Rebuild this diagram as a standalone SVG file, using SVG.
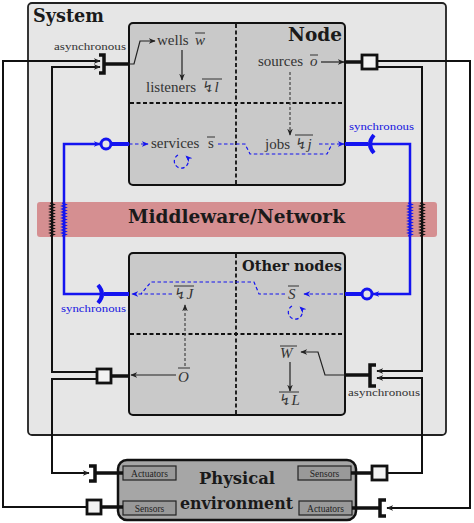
<svg xmlns="http://www.w3.org/2000/svg" width="474" height="523" viewBox="0 0 474 523">
<style>
.bold{font-family:"DejaVu Serif","Liberation Serif",serif;font-weight:bold;fill:#1a1a1a}
.lbl{font-family:"Liberation Serif","DejaVu Serif",serif;font-size:15px;fill:#333}
.it{font-style:italic}
.sm{font-family:"Liberation Serif","DejaVu Serif",serif;font-size:11px;fill:#333}
.tiny{font-family:"Liberation Serif","DejaVu Serif",serif;font-size:9.5px;fill:#222}
.blue{fill:#1515e0}
.ov{stroke:#333;stroke-width:1}
.k{fill:none;stroke:#111;stroke-width:2}
.kt{fill:none;stroke:#111;stroke-width:3.5}
.ka{fill:none;stroke:#222;stroke-width:1.2}
.kd{fill:none;stroke:#444;stroke-width:1.2;stroke-dasharray:3,2}
.b{fill:none;stroke:#1414f0;stroke-width:2.5}
.bt{fill:none;stroke:#1414f0;stroke-width:4}
.bd{fill:none;stroke:#1414f0;stroke-width:1.2;stroke-dasharray:3.5,2.5}
.div{stroke:#111;stroke-width:1.8;stroke-dasharray:4,2.5}
.sq{fill:#f2f2f2;stroke:#111;stroke-width:2.8}
.wig{fill:none;stroke-width:1.3}
</style>
<defs>
<marker id="ah" viewBox="0 0 10 10" refX="9" refY="5" markerWidth="7" markerHeight="7" markerUnits="userSpaceOnUse" orient="auto"><path d="M0,1 L10,5 L0,9 L3,5 z" fill="#222"/></marker>
<marker id="ahb" viewBox="0 0 10 10" refX="9" refY="5" markerWidth="7" markerHeight="7" markerUnits="userSpaceOnUse" orient="auto"><path d="M0,1 L10,5 L0,9 L3,5 z" fill="#1414f0"/></marker>
</defs>

<g id="system">
<rect x="28" y="3" width="418" height="432" rx="4" fill="#e6e6e6" stroke="#222" stroke-width="1.8"/>
<text class="bold" x="33" y="22" font-size="19" textLength="71" lengthAdjust="spacingAndGlyphs">System</text>
</g>

<g id="middleware">
<rect x="37" y="202" width="400" height="35" rx="3" fill="#d48a8c" opacity="0.95"/>
<text class="bold" x="128" y="223" font-size="18" textLength="217" lengthAdjust="spacingAndGlyphs">Middleware/Network</text>
</g>

<g id="node">
<rect x="129" y="23" width="216" height="162" rx="4" fill="#c9c9c9" stroke="#111" stroke-width="2"/>
<line class="div" x1="236" y1="24" x2="236" y2="184"/>
<line class="div" x1="130" y1="103" x2="344" y2="103"/>
<text class="bold" x="288" y="41" font-size="19" textLength="54" lengthAdjust="spacingAndGlyphs">Node</text>
<text class="lbl" x="157" y="45">wells <tspan class="it" x="195">w</tspan></text><line class="ov" x1="195" y1="33" x2="205" y2="33"/>
<text class="lbl" x="146" y="92">listeners <tspan x="202">↯<tspan class="it">l</tspan></tspan></text><line class="ov" x1="202" y1="79" x2="222" y2="79"/>
<text class="lbl" x="258" y="66">sources <tspan class="it" x="310">o</tspan></text><line class="ov" x1="310" y1="55" x2="318" y2="55"/>
<text class="lbl" x="151" y="148">services <tspan x="208">s</tspan></text><line class="ov" x1="207" y1="137" x2="215" y2="137"/>
<text class="lbl" x="265" y="149">jobs <tspan x="295">↯<tspan class="it">j</tspan></tspan></text><line class="ov" x1="295" y1="135" x2="313" y2="135"/>
</g>

<g id="other-nodes">
<rect x="129" y="253" width="216" height="162" rx="4" fill="#c9c9c9" stroke="#111" stroke-width="2"/>
<line class="div" x1="236" y1="254" x2="236" y2="414"/>
<line class="div" x1="130" y1="334" x2="344" y2="334"/>
<text class="bold" x="242" y="271" font-size="15" textLength="100" lengthAdjust="spacingAndGlyphs">Other nodes</text>
<text class="lbl" x="174" y="299">↯<tspan class="it">J</tspan></text><line class="ov" x1="174" y1="286" x2="194" y2="286"/>
<text class="lbl it" x="288" y="299">S</text><line class="ov" x1="288" y1="286" x2="299" y2="286"/>
<text class="lbl it" x="178" y="382">O</text><line class="ov" x1="178" y1="368" x2="190" y2="368"/>
<text class="lbl it" x="280" y="358">W</text><line class="ov" x1="280" y1="346" x2="297" y2="346"/>
<text class="lbl" x="279" y="405">↯<tspan class="it">L</tspan></text><line class="ov" x1="279" y1="392" x2="299" y2="392"/>
</g>

<g id="physical-environment">
<rect x="118" y="460" width="238" height="60" rx="9" fill="#a6a6a6" stroke="#111" stroke-width="2.5"/>
<text class="bold" x="199" y="484" font-size="17" textLength="76" lengthAdjust="spacingAndGlyphs">Physical</text>
<text class="bold" x="180" y="509" font-size="17" textLength="113" lengthAdjust="spacingAndGlyphs">environment</text>
<g id="env-actuators-left"><rect x="123" y="466" width="53" height="14" fill="#999" stroke="#222" stroke-width="1.2"/><text class="tiny" x="149.5" y="476.5" text-anchor="middle">Actuators</text></g>
<g id="env-sensors-left"><rect x="123" y="501" width="53" height="14" fill="#999" stroke="#222" stroke-width="1.2"/><text class="tiny" x="149.5" y="511.5" text-anchor="middle">Sensors</text></g>
<g id="env-sensors-right"><rect x="298" y="466" width="53" height="14" fill="#999" stroke="#222" stroke-width="1.2"/><text class="tiny" x="324.5" y="476.5" text-anchor="middle">Sensors</text></g>
<g id="env-actuators-right"><rect x="299" y="501" width="53" height="14" fill="#999" stroke="#222" stroke-width="1.2"/><text class="tiny" x="325.5" y="511.5" text-anchor="middle">Actuators</text></g>
</g>

<g id="connectors">
<path class="k" d="M87,507 H3 V61 H100" marker-end="url(#ah)"/>
<path class="k" d="M97,372 H52 V67 H100" marker-end="url(#ah)"/>
<path class="k" d="M97,379 H52 V473 H89" marker-end="url(#ah)"/>
<path class="k" d="M377,61 H470 V508 H387" marker-end="url(#ah)"/>
<path class="k" d="M377,67 H422 V371 H377" marker-end="url(#ah)"/>
<path class="k" d="M387,473 H422 V378 H377" marker-end="url(#ah)"/>
<path class="kt" d="M104,64 H129"/>
<path class="kt" d="M345,62 H362"/>
<path class="kt" d="M111,376 H129"/>
<path class="kt" d="M345,375 H370"/>
<path class="kt" d="M95,473 H123"/>
<path class="kt" d="M101,507 H123"/>
<path class="kt" d="M351,473 H372"/>
<path class="kt" d="M352,508 H380"/>
<path class="kt" d="M99,55 H104 V73 H99" stroke-width="3"/>
<path class="kt" d="M89,466 H95 V481 H89" stroke-width="3"/>
<path class="kt" d="M376,365 H370 V386 H376" stroke-width="3"/>
<path class="kt" d="M386,500 H380 V516 H386" stroke-width="3"/>
<rect class="sq" x="362" y="55" width="15" height="14"/>
<rect class="sq" x="97" y="369" width="14" height="14"/>
<rect class="sq" x="87" y="500" width="14" height="14"/>
<rect class="sq" x="372" y="466" width="15" height="14"/>
<path class="ka" d="M129,64 H134 L140,41 H155" marker-end="url(#ah)"/>
<path class="ka" d="M182,50 V80" marker-end="url(#ah)"/>
<path class="ka" d="M321,62 H344" marker-end="url(#ah)"/>
<path class="kd" d="M290,72 V135" marker-end="url(#ah)"/>
<path class="ka" d="M176,375 H131" marker-end="url(#ah)"/>
<path class="kd" d="M185,366 V305" marker-end="url(#ah)"/>
<path class="ka" d="M345,375 H325 L318,352 H301" marker-end="url(#ah)"/>
<path class="ka" d="M290,362 V391" marker-end="url(#ah)"/>
<path class="b" d="M100,294 H64 V144 H100" marker-end="url(#ahb)"/>
<path class="b" d="M371,144 H410 V294 H373" marker-end="url(#ahb)"/>
<path class="bt" d="M111,144 H129"/>
<path class="bt" d="M345,144 H368"/>
<path class="bt" d="M104,294 H129"/>
<path class="bt" d="M345,294 H362"/>
<circle cx="106" cy="144" r="5" fill="#e6e6e6" stroke="#1414f0" stroke-width="3"/>
<circle cx="367" cy="294" r="5" fill="#e6e6e6" stroke="#1414f0" stroke-width="3"/>
<path class="bt" d="M374,135 Q366,144 374,153" stroke-width="3"/>
<path class="bt" d="M98,285 Q106,294 98,303" stroke-width="3"/>
<path class="bd" d="M129,144 H148" marker-end="url(#ahb)"/>
<path class="bd" d="M218,144 H245 L250,154 H327 L332,144"/>
<path class="bd" d="M319,144 H344" marker-end="url(#ahb)"/>
<path class="bd" d="M178,155 A7,7 0 1 0 186,156" marker-end="url(#ahb)"/>
<path class="bd" d="M361,294 H304" marker-end="url(#ahb)"/>
<path class="bd" d="M285,294 H259 L254,282 H151 L141,294"/>
<path class="bd" d="M172,294 H132" marker-end="url(#ahb)"/>
<path class="bd" d="M292,306 A7,7 0 1 0 300,307" marker-end="url(#ahb)"/>
<path class="wig" stroke="#111" d="M50,203 l4,1.5 l-4,1.5 l4,1.5 l-4,1.5 l4,1.5 l-4,1.5 l4,1.5 l-4,1.5 l4,1.5 l-4,1.5 l4,1.5 l-4,1.5 l4,1.5 l-4,1.5 l4,1.5 l-4,1.5 l4,1.5 l-4,1.5 l4,1.5 l-4,1.5 l4,1.5 l-4,1.5"/>
<path class="wig" stroke="#1414f0" d="M62,203 l4,1.5 l-4,1.5 l4,1.5 l-4,1.5 l4,1.5 l-4,1.5 l4,1.5 l-4,1.5 l4,1.5 l-4,1.5 l4,1.5 l-4,1.5 l4,1.5 l-4,1.5 l4,1.5 l-4,1.5 l4,1.5 l-4,1.5 l4,1.5 l-4,1.5 l4,1.5 l-4,1.5"/>
<path class="wig" stroke="#1414f0" d="M408,203 l4,1.5 l-4,1.5 l4,1.5 l-4,1.5 l4,1.5 l-4,1.5 l4,1.5 l-4,1.5 l4,1.5 l-4,1.5 l4,1.5 l-4,1.5 l4,1.5 l-4,1.5 l4,1.5 l-4,1.5 l4,1.5 l-4,1.5 l4,1.5 l-4,1.5 l4,1.5 l-4,1.5"/>
<path class="wig" stroke="#111" d="M420,203 l4,1.5 l-4,1.5 l4,1.5 l-4,1.5 l4,1.5 l-4,1.5 l4,1.5 l-4,1.5 l4,1.5 l-4,1.5 l4,1.5 l-4,1.5 l4,1.5 l-4,1.5 l4,1.5 l-4,1.5 l4,1.5 l-4,1.5 l4,1.5 l-4,1.5 l4,1.5 l-4,1.5"/>
<text class="sm" x="54" y="50" textLength="72" lengthAdjust="spacingAndGlyphs">asynchronous</text>
<text class="sm" x="348" y="396" textLength="72" lengthAdjust="spacingAndGlyphs">asynchronous</text>
<text class="sm blue" x="349" y="130" textLength="65" lengthAdjust="spacingAndGlyphs">synchronous</text>
<text class="sm blue" x="61" y="312" textLength="65" lengthAdjust="spacingAndGlyphs">synchronous</text>
</g>
</svg>
